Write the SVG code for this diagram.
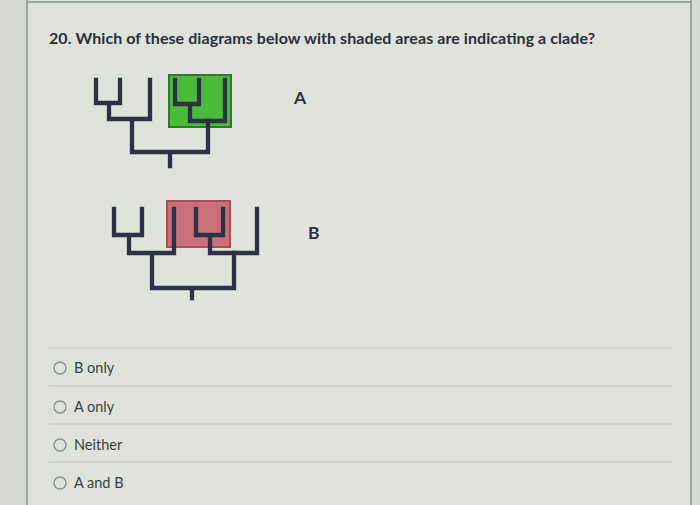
<svg xmlns="http://www.w3.org/2000/svg" width="700" height="505" viewBox="0 0 700 505">
  <defs>
    <style>
      .bg { fill: #dfe3dc; }
      .frame { stroke: #8d918c; stroke-width: 1.5; fill: none; }
      .sep { stroke: #c3c7c0; stroke-width: 1.2; }
      .title { font-family: Lato, "Liberation Sans", sans-serif; font-weight: 700; font-size: 16px; fill: #2c2f3a; }
      .lbl { font-family: Lato, "Liberation Sans", sans-serif; font-weight: 700; font-size: 17.5px; fill: #2c2f40; }
      .opt { font-family: Lato, "Liberation Sans", sans-serif; font-size: 14.5px; fill: #3a3d40; }
      .radio { fill: none; stroke: #8a8e8a; stroke-width: 1.3; }
      .tree { fill: none; stroke: #2f3246; stroke-width: 4.3; stroke-linecap: square; stroke-linejoin: miter; }
    </style>
  </defs>
  <rect class="bg" x="0" y="0" width="700" height="505"/>
  <rect x="0" y="0" width="26" height="505" fill="#d6d9d2"/>
  <rect x="692" y="0" width="8" height="505" fill="#d6d9d2"/>
  <path class="frame" d="M27 0 V505 M691 0 V505 M27 2 H691"/>

  <text class="title" x="49" y="44" textLength="546" lengthAdjust="spacing">20.  Which of these diagrams below with shaded areas are indicating a clade?</text>

  <g id="treeA">
    <rect x="169" y="75" width="62" height="52" fill="#4cbb3c" stroke="#2e7a2a" stroke-width="2"/>
    <path class="tree" d="M96 80 V103 H120 V80 M109 103 V119 H150 V80 M132 119 V152 H208 V121 M170 152 V166"/>
    <path class="tree" d="M175 80 V104 H199 V80 M190 104 V121 H225 V80"/>
  </g>
  <text id="labelA" class="lbl" x="294" y="104">A</text>

  <g id="treeB">
    <rect x="167" y="201" width="63" height="46" fill="#c9707c" stroke="#a84c5a" stroke-width="2"/>
    <path class="tree" d="M114 209 V235 H142 V209 M129 235 V253 H174 V209 M152 253 V288 H234 V253 M192 288 V298"/>
    <path class="tree" d="M196 209 V235 H223 V209 M210 235 V253 H257 V209"/>
  </g>
  <text id="labelB" class="lbl" x="308" y="239">B</text>

  <g id="separators">
    <line class="sep" x1="49" y1="348" x2="672" y2="348"/>
    <line class="sep" x1="49" y1="386" x2="672" y2="386"/>
    <line class="sep" x1="49" y1="424" x2="672" y2="424"/>
    <line class="sep" x1="49" y1="462" x2="672" y2="462"/>
  </g>

  <g id="opt1"><circle class="radio" cx="60" cy="368" r="6"/><text class="opt" x="74" y="373">B only</text></g>
  <g id="opt2"><circle class="radio" cx="60" cy="407" r="6"/><text class="opt" x="74" y="412">A only</text></g>
  <g id="opt3"><circle class="radio" cx="60" cy="445" r="6"/><text class="opt" x="74" y="450">Neither</text></g>
  <g id="opt4"><circle class="radio" cx="60" cy="483" r="6"/><text class="opt" x="74" y="488">A and B</text></g>
</svg>
